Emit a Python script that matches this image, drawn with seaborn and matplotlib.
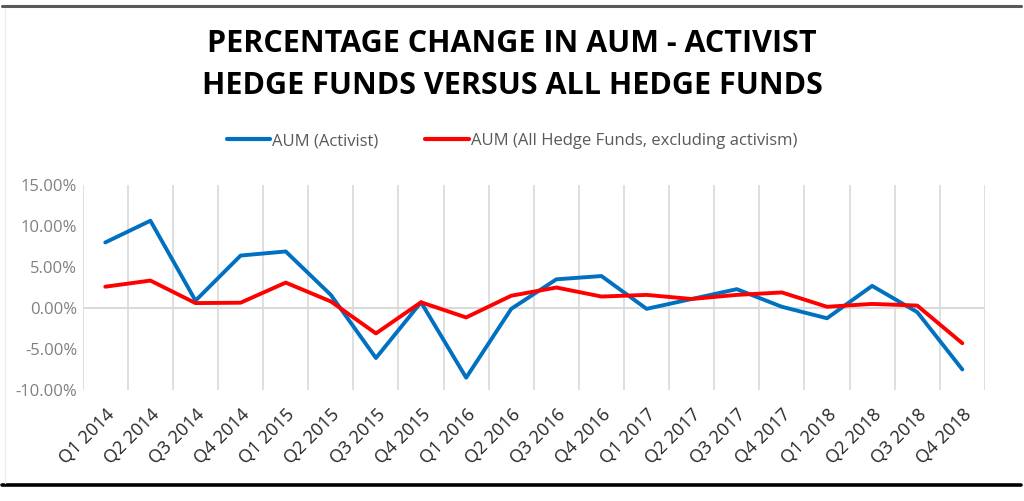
import matplotlib
matplotlib.use("Agg")
import matplotlib.pyplot as plt
import seaborn as sns
import pandas as pd
import numpy as np
from matplotlib.ticker import FuncFormatter
from matplotlib.lines import Line2D

quarters = ["Q1 2014", "Q2 2014", "Q3 2014", "Q4 2014",
            "Q1 2015", "Q2 2015", "Q3 2015", "Q4 2015",
            "Q1 2016", "Q2 2016", "Q3 2016", "Q4 2016",
            "Q1 2017", "Q2 2017", "Q3 2017", "Q4 2017",
            "Q1 2018", "Q2 2018", "Q3 2018", "Q4 2018"]
activist = [8.0, 10.65, 0.9, 6.4, 6.9, 1.6, -6.1, 0.7, -8.5, -0.1,
            3.5, 3.9, -0.1, 1.1, 2.3, 0.15, -1.25, 2.7, -0.5, -7.5]
all_hf = [2.6, 3.35, 0.6, 0.65, 3.1, 0.8, -3.1, 0.7, -1.15, 1.5,
          2.5, 1.4, 1.6, 1.1, 1.6, 1.9, 0.15, 0.5, 0.3, -4.3]
series_names = ["AUM (Activist)", "AUM (All Hedge Funds, excluding activism)"]
title_lines = ["PERCENTAGE CHANGE IN AUM - ACTIVIST",
               "HEDGE FUNDS VERSUS ALL HEDGE FUNDS"]
colors = ["#0070C0", "#FF0000"]

sns.set_theme(style="white")
plt.rcParams['font.family'] = ['Open Sans', 'DejaVu Sans']

df = pd.DataFrame({
    "Quarter": quarters * 2,
    "Value": activist + all_hf,
    "Series": [series_names[0]] * len(quarters) + [series_names[1]] * len(quarters),
})

fig = plt.figure(figsize=(10.24, 5.01), dpi=100)
ax = fig.add_axes([0.0808, 0.2216, 0.881, 0.409])

sns.lineplot(data=df, x="Quarter", y="Value", hue="Series", palette=colors,
             linewidth=2.8, ax=ax, sort=False, legend=False)

ax.set_xlim(-0.5, len(quarters) - 0.5)
ax.set_ylim(-10, 15)
ax.set_yticks([-10, -5, 0, 5, 10, 15])
ax.yaxis.set_major_formatter(FuncFormatter(lambda v, p: f"{v:.2f}%"))
ax.set_xticks(range(len(quarters)))
ax.set_xticklabels(quarters, rotation=45, ha="right", rotation_mode="anchor")
ax.set_xticks(np.arange(-0.5, len(quarters), 1), minor=True)
ax.grid(which="minor", axis="x", color="#d9d9d9", linewidth=1.2)
ax.grid(which="major", visible=False)
ax.axhline(0, color="#d9d9d9", linewidth=1.4, zorder=0)
ax.tick_params(axis="both", which="both", length=0)
ax.tick_params(axis="y", labelsize=12, labelcolor="#808080", pad=4)
ax.tick_params(axis="x", labelsize=13, labelcolor="#262626", pad=11)
for s in ax.spines.values():
    s.set_visible(False)
ax.set_xlabel("")
ax.set_ylabel("")

# Title
fig.text(0.5, 1 - 44 / 501, title_lines[0], ha="center", va="center",
         fontsize=22, fontweight="bold", color="black")
fig.text(0.5, 1 - 86 / 501, title_lines[1], ha="center", va="center",
         fontsize=22, fontweight="bold", color="black")

# Legend
handles = [Line2D([0], [0], color=c, lw=3) for c in colors]
fig.legend(handles, series_names, loc="center", bbox_to_anchor=(0.5, 1 - 141 / 501),
           ncol=2, frameon=False, fontsize=12, labelcolor="#595959",
           handlelength=2.6, handletextpad=0.15, columnspacing=2.8)

# Border lines
fig.add_artist(Line2D([0.002, 0.997], [1 - 6 / 501] * 2, color="#595959", lw=2.2))
fig.add_artist(Line2D([0.002, 0.997], [1 - 484.5 / 501] * 2, color="black", lw=2.6))
fig.add_artist(Line2D([5 / 1024] * 2, [1 - 8 / 501, 1 - 483 / 501], color="#ececec", lw=1))

fig.savefig("out.png", dpi=100, facecolor="white")
